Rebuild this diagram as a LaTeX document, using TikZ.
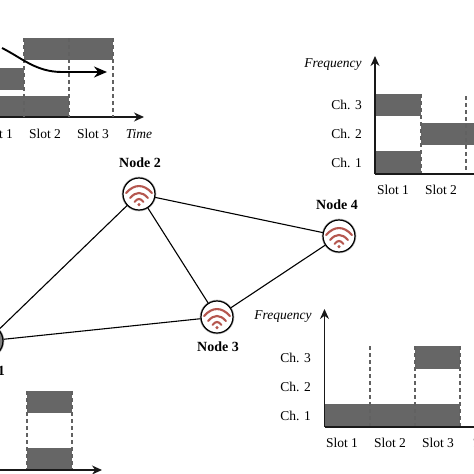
\documentclass[tikz,border=0pt]{standalone}
\usepackage{fontspec}
\setmainfont{Liberation Serif}
\usetikzlibrary{arrows.meta}
\definecolor{barc}{HTML}{666666}
\definecolor{wific}{HTML}{B5574F}
\tikzset{
  x=1pt,y=-1pt,
  bar/.style={fill=barc,draw=none},
  slotline/.style={draw=black!62,line width=1.2pt,dash pattern=on 4pt off 3pt},
  axisline/.style={draw=black!90,line width=1.3pt,-{Stealth[length=10pt,width=9pt]}},
  txt/.style={anchor=base,inner sep=0pt,font=\fontsize{13.5}{15}\selectfont},
  chlabel/.style={anchor=base east,inner sep=0pt,font=\fontsize{13.5}{15}\selectfont},
  axtitle/.style={anchor=base,inner sep=0pt,font=\fontsize{13.5}{15}\selectfont\itshape},
  nodelabel/.style={anchor=base,inner sep=0pt,font=\fontsize{14}{16}\selectfont\bfseries},
  radio/.style={circle,draw=black,line width=1.2pt,fill=white,minimum size=32pt,inner sep=0pt,
    preaction={draw=black!30,line width=2.6pt}},
  link/.style={draw=black,line width=1.1pt},
  wifi/.pic={
    \draw[wific,line width=2.1pt,line cap=round] (-13,-1) .. controls (-4.5,-10.3) and (4.5,-10.3) .. (13,-1);
    \draw[wific,line width=2.1pt,line cap=round] (-9,4) .. controls (-3,-2.7) and (3,-2.7) .. (9,4);
    \draw[wific,line width=2.1pt,line cap=round] (-4.5,8) .. controls (-1.5,4) and (1.5,4) .. (4.5,8);
    \fill[wific] (0,10.6) circle (1.7pt);
  }
}
\begin{document}
\begin{tikzpicture}
\useasboundingbox (0,0) rectangle (474,474);
\clip (0,0) rectangle (474,474);
% top-left chart
\fill[bar] (24,38) rectangle (113,60);
\fill[bar] (-5,68) rectangle (24,90);
\fill[bar] (-5,96) rectangle (69,117);
\draw[axisline] (-5,117) -- (144,117);
\draw[slotline] (24,38) -- (24,117);
\draw[slotline] (69,38) -- (69,117);
\draw[slotline] (113,38) -- (113,117);
\draw[line width=1.9pt,-{Stealth[length=13pt,width=11pt]}] (2,48) .. controls (22,58) and (36,72) .. (62,72) -- (107,72);
\node[txt] (tl1) at (-3,138) {Slot 1};
\node[txt] (tl2) at (45,138) {Slot 2};
\node[txt] (tl3) at (93,138) {Slot 3};
\node[axtitle] (tlt) at (139,138) {Time};
% top-right chart
\fill[bar] (375,94) rectangle (421,116);
\fill[bar] (421,123) rectangle (480,145);
\fill[bar] (375,151) rectangle (421,174);
\draw[slotline] (421,94) -- (421,174);
\draw[slotline] (466,96) -- (466,174);
\draw[axisline] (375,174) -- (375,56);
\draw[draw=black!90,line width=1.3pt] (375,174) -- (480,174);
\node[axtitle] (trf) at (333,67) {Frequency};
\node[chlabel] (tr3) at (362,109) {Ch. 3};
\node[chlabel] (tr2) at (362,138) {Ch. 2};
\node[chlabel] (tr1) at (362,167) {Ch. 1};
\node[txt] (trs1) at (393,194) {Slot 1};
\node[txt] (trs2) at (441,194) {Slot 2};
% bottom-right chart
\fill[bar] (324,404) rectangle (460,427);
\fill[bar] (415,346) rectangle (460,369);
\draw[slotline] (370,346) -- (370,427);
\draw[slotline] (415,346) -- (415,427);
\draw[slotline] (460,346) -- (460,427);
\draw[axisline] (324.5,427) -- (324.5,309);
\draw[draw=black!90,line width=1.3pt] (324.5,427) -- (480,427);
\node[axtitle] (brf) at (283,319) {Frequency};
\node[chlabel] (br3) at (311,362) {Ch. 3};
\node[chlabel] (br2) at (311,391) {Ch. 2};
\node[chlabel] (br1) at (311,420) {Ch. 1};
\node[txt] (brs1) at (342,447) {Slot 1};
\node[txt] (brs2) at (390,447) {Slot 2};
\node[txt] (brs3) at (438,447) {Slot 3};
\node[axtitle] (brt) at (486,447) {Time};
% bottom-left chart
\fill[bar] (27,391) rectangle (72,413);
\fill[bar] (27,448) rectangle (72,470);
\draw[slotline] (27,391) -- (27,470);
\draw[slotline] (72,391) -- (72,470);
\draw[axisline] (-5,470) -- (102,470);
% network
\node[radio,fill=black!50] (n1) at (-13,341) {};
\node[radio] (n2) at (139,194) {};
\node[radio] (n3) at (217,317) {};
\node[radio] (n4) at (339,236) {};
\draw[link] (n1) -- (n2);
\draw[link] (n1) -- (n3);
\draw[link] (n2) -- (n3);
\draw[link] (n2) -- (n4);
\draw[link] (n3) -- (n4);
\pic at (n2) {wifi};
\pic at (n3) {wifi};
\pic at (n4) {wifi};
\node[nodelabel] (l1) at (-16,375) {Node 1};
\node[nodelabel] (l2) at (140,167) {Node 2};
\node[nodelabel] (l3) at (218,351) {Node 3};
\node[nodelabel] (l4) at (337,209) {Node 4};
\end{tikzpicture}
\end{document}
